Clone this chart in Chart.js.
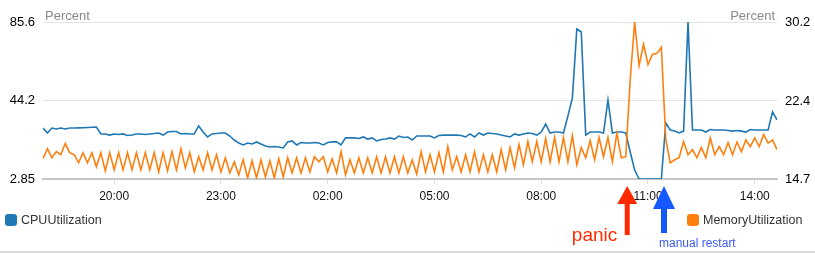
<!DOCTYPE html>
<html>
<head>
<meta charset="utf-8">
<script src="https://cdn.jsdelivr.net/npm/chart.js@4"></script>
<style>
  html, body { margin: 0; padding: 0; background: #fff; }
  #wrap { position: relative; width: 815px; height: 254px; overflow: hidden;
          font-family: "Liberation Sans", Arial, Helvetica, sans-serif; }
  #chart { position: absolute; left: 0; top: 0; }
  .legend { position: absolute; top: 213px; font-size: 12.5px; color: #333;
            display: flex; align-items: center; line-height: 14px; }
  .swatch { width: 12px; height: 12px; border-radius: 3px; margin-right: 4px; }
  #rule { position: absolute; left: 0; top: 251px; width: 815px; height: 2px; background: #d9d9d9; }
</style>
</head>
<body>
<div id="wrap">
  <canvas id="chart" width="815" height="254"></canvas>
  <div class="legend" style="left:5px"><span class="swatch" style="background:#1f77b4"></span>CPUUtilization</div>
  <div class="legend" style="left:687px"><span class="swatch" style="background:#ff7f0e"></span>MemoryUtilization</div>
  <div id="rule"></div>
</div>
<script>
// samples every 7.5 minutes starting at 18:00
const stepMinutes = 7.5;
const unitLabel = 'Percent';

const xTickMinutes = [120, 300, 480, 660, 840, 1020, 1200];
const xTickLabels = ['20:00', '23:00', '02:00', '05:00', '08:00', '11:00', '14:00'];

const cpuTicks = [2.85, 44.2, 85.6];
const memTicks = [14.7, 22.4, 30.2];

const cpuUtilization = [
  29.7, 27.1, 29.7, 29.2, 29.7, 29.2, 29.7, 29.7, 29.8, 29.9,
  30.0, 30.1, 30.2, 26.6, 26.6, 26.0, 26.6, 26.3, 26.6, 25.8,
  26.0, 26.6, 26.6, 26.3, 26.6, 26.8, 27.1, 26.0, 27.6, 27.9,
  27.9, 26.6, 26.8, 26.6, 26.6, 30.8, 27.6, 25.0, 26.6, 26.8,
  27.1, 27.1, 25.5, 23.4, 21.8, 20.8, 21.8, 21.3, 22.4, 21.3,
  20.2, 19.7, 20.0, 19.7, 19.2, 22.4, 22.9, 20.8, 22.1, 21.8,
  21.8, 22.1, 21.8, 20.8, 22.1, 22.4, 22.4, 20.8, 24.5, 24.5,
  24.5, 24.2, 25.0, 23.9, 24.5, 22.9, 23.7, 23.9, 24.5, 23.9,
  25.5, 24.7, 25.0, 23.4, 25.5, 25.5, 25.5, 25.5, 24.5, 25.8,
  26.0, 26.0, 26.0, 26.0, 25.8, 25.0, 26.6, 25.0, 27.1, 26.0,
  27.1, 26.8, 26.6, 26.0, 25.5, 25.0, 26.6, 26.0, 26.6, 27.1,
  26.8, 26.0, 27.6, 31.8, 27.1, 27.6, 27.6, 27.1, 36.1, 45.5,
  81.9, 80.3, 26.0, 27.6, 27.6, 27.6, 27.1, 44.5, 27.1, 27.6,
  27.6, 27.1, 17.1, 7.6, 2.85, 2.85, 2.85, 2.85, 2.85, 2.85,
  32.4, 28.7, 28.1, 27.1, 28.1, 85.6, 28.7, 28.7, 28.7, 27.6,
  28.9, 28.7, 28.7, 28.7, 28.4, 28.1, 28.4, 28.1, 27.6, 28.9,
  28.7, 28.7, 28.7, 28.7, 38.2, 34.0
];

const memoryUtilization = [
  16.7, 17.7, 16.8, 17.4, 17.1, 18.2, 17.3, 17.1, 16.3, 17.3,
  16.3, 17.3, 15.9, 17.3, 15.5, 17.3, 15.6, 17.3, 15.6, 17.3,
  15.6, 17.3, 15.6, 17.3, 15.6, 17.3, 15.4, 17.3, 15.5, 17.4,
  15.6, 17.7, 15.8, 17.3, 15.4, 16.9, 15.6, 17.3, 15.6, 17.1,
  15.4, 16.8, 15.3, 16.4, 15.1, 16.6, 14.8, 16.5, 14.8, 16.6,
  14.9, 16.5, 14.8, 16.7, 14.9, 16.8, 15.3, 16.8, 15.3, 16.8,
  15.4, 16.9, 16.4, 16.9, 15.4, 16.7, 15.3, 17.4, 15.1, 16.6,
  15.3, 16.8, 15.3, 16.8, 15.3, 16.9, 15.3, 16.9, 15.3, 16.9,
  15.3, 16.9, 15.3, 16.6, 15.2, 17.4, 15.4, 17.1, 15.4, 17.3,
  15.4, 17.9, 15.6, 16.9, 15.4, 17.1, 15.4, 17.4, 15.4, 17.1,
  15.4, 17.1, 15.4, 17.6, 15.6, 17.8, 15.8, 18.1, 16.1, 18.4,
  16.4, 18.4, 16.4, 18.7, 16.4, 18.8, 16.4, 18.8, 16.4, 19.0,
  16.1, 17.8, 16.8, 18.5, 16.6, 18.8, 16.9, 18.8, 16.4, 19.2,
  16.8, 16.9, 24.5, 30.2, 25.9, 28.0, 26.0, 27.0, 27.1, 27.7,
  18.6, 16.3, 16.6, 16.8, 18.4, 17.1, 17.6, 16.8, 17.8, 16.8,
  18.75, 17.1, 17.9, 17.1, 18.3, 17.1, 18.35, 17.4, 18.55, 17.9,
  18.75, 17.9, 19.1, 18.25, 18.55, 17.6
];

// annotations, minutes after 18:00
const panicAt = 985;
const restartAt = 1047;

const fontFamily = '"Liberation Sans", Arial, Helvetica, sans-serif';

function toPoints(values) {
  return values.map((v, i) => ({ x: i * stepMinutes, y: v }));
}

function drawArrow(ctx, x, tipY, headY, bottomY, headHalf, shaftHalf, color) {
  ctx.fillStyle = color;
  ctx.beginPath();
  ctx.moveTo(x, tipY);
  ctx.lineTo(x + headHalf, headY);
  ctx.lineTo(x + shaftHalf, headY);
  ctx.lineTo(x + shaftHalf, bottomY);
  ctx.lineTo(x - shaftHalf, bottomY);
  ctx.lineTo(x - shaftHalf, headY);
  ctx.lineTo(x - headHalf, headY);
  ctx.closePath();
  ctx.fill();
}

const overlay = {
  id: 'overlay',
  afterDraw(chart) {
    const ctx = chart.ctx;
    const area = chart.chartArea;
    const xs = chart.scales.x;
    ctx.save();
    ctx.font = '13px ' + fontFamily;
    ctx.fillStyle = '#8a8a8a';
    ctx.textBaseline = 'middle';
    ctx.textAlign = 'left';
    ctx.fillText(unitLabel, area.left + 2, 16);
    ctx.textAlign = 'right';
    ctx.fillText(unitLabel, area.right - 2, 16);

    const px = xs.getPixelForValue(panicAt);
    drawArrow(ctx, px, 186, 204, 235, 10, 2.5, '#ff2a00');
    ctx.font = '19px ' + fontFamily;
    ctx.fillStyle = '#ff2a00';
    ctx.textAlign = 'right';
    ctx.textBaseline = 'alphabetic';
    ctx.fillText('panic', px - 10, 241);

    const bx = xs.getPixelForValue(restartAt);
    drawArrow(ctx, bx, 186, 209, 233, 11, 3, '#1459ff');
    ctx.font = '12px ' + fontFamily;
    ctx.fillStyle = '#3b5cf5';
    ctx.textAlign = 'left';
    ctx.fillText('manual restart', bx - 5, 247);
    ctx.restore();
  }
};

new Chart(document.getElementById('chart'), {
  type: 'line',
  data: {
    datasets: [
      {
        label: 'MemoryUtilization',
        data: toPoints(memoryUtilization),
        borderColor: '#ff7f0e',
        borderWidth: 1.6,
        pointRadius: 0,
        tension: 0,
        yAxisID: 'y1',
        order: 0
      },
      {
        label: 'CPUUtilization',
        data: toPoints(cpuUtilization),
        borderColor: '#1f77b4',
        borderWidth: 1.6,
        pointRadius: 0,
        tension: 0,
        yAxisID: 'y',
        order: 1
      }
    ]
  },
  options: {
    responsive: false,
    animation: false,
    devicePixelRatio: 1,
    layout: { padding: { top: 22, left: 0, right: 0, bottom: 0 } },
    plugins: { legend: { display: false }, tooltip: { enabled: false } },
    scales: {
      x: {
        type: 'linear',
        min: 0,
        max: (cpuUtilization.length - 1) * stepMinutes,
        afterBuildTicks: s => { s.ticks = xTickMinutes.map(v => ({ value: v })); },
        afterFit: s => { s.height = 75; },
        border: { display: true, color: '#c6c6c6', width: 2 },
        grid: { drawOnChartArea: false, drawTicks: true, tickLength: 5, color: '#dddddd' },
        ticks: {
          autoSkip: false, maxRotation: 0, padding: 5,
          color: '#111', font: { family: fontFamily, size: 12 },
          callback: (v, i) => xTickLabels[i]
        }
      },
      y: {
        position: 'left',
        min: cpuTicks[0],
        max: cpuTicks[cpuTicks.length - 1],
        afterBuildTicks: s => { s.ticks = cpuTicks.map(v => ({ value: v })); },
        afterFit: s => { s.width = 43; },
        border: { display: false },
        grid: { color: '#e4e4e4', drawTicks: false },
        ticks: { padding: 8, color: '#000', font: { family: fontFamily, size: 13 }, callback: v => String(v) }
      },
      y1: {
        position: 'right',
        min: memTicks[0],
        max: memTicks[memTicks.length - 1],
        afterBuildTicks: s => { s.ticks = memTicks.map(v => ({ value: v })); },
        afterFit: s => { s.width = 38; },
        border: { display: false },
        grid: { display: false, drawTicks: false },
        ticks: { padding: 8, color: '#000', font: { family: fontFamily, size: 13 }, callback: v => String(v) }
      }
    }
  },
  plugins: [overlay]
});
</script>
</body>
</html>
